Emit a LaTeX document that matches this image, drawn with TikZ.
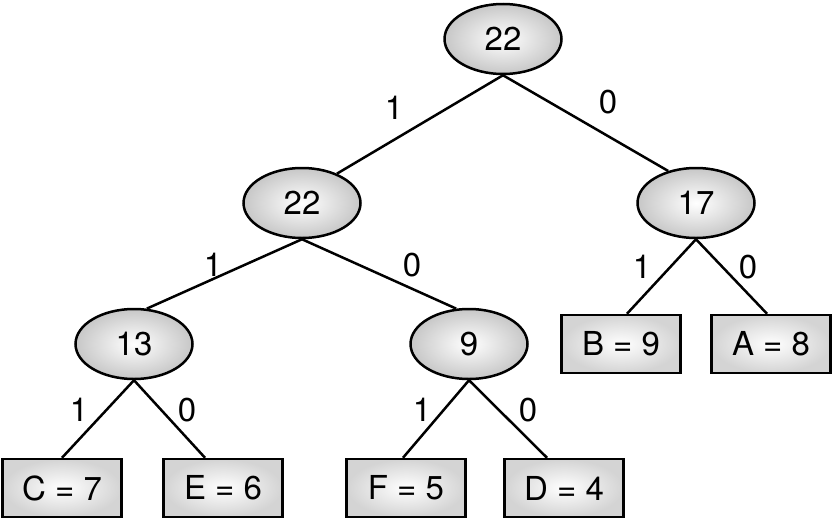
\documentclass[tikz,border=0pt]{standalone}
\usepackage{fontspec}
\setmainfont{TeX Gyre Heros}
\usetikzlibrary{shapes.geometric}
\begin{document}
\begin{tikzpicture}[x=1pt,y=-1pt,
  inode/.style={ellipse,draw,line width=2.5pt,minimum width=117pt,minimum height=70pt,inner sep=0pt,
    inner color=white,outer color=black!22,font=\fontsize{33}{36}\selectfont},
  leaf/.style={rectangle,draw,line width=2.5pt,minimum width=119pt,minimum height=58pt,inner sep=0pt,
    inner color=white,outer color=black!17,font=\fontsize{33}{36}\selectfont},
  edge/.style={line width=2.5pt},
  lbl/.style={font=\fontsize{33}{36}\selectfont,inner sep=0pt}]
\useasboundingbox (0,0) rectangle (834,522);
\node[inode] (r) at (503,39) {22};
\node[inode] (l) at (302,203) {22};
\node[inode] (n17) at (696,203) {17};
\node[inode] (n13) at (134,344) {13};
\node[inode] (n9) at (469,344) {9};
\node[leaf] (B) at (621,344) {B = 9};
\node[leaf] (A) at (771,344) {A = 8};
\node[leaf] (C) at (62,488) {C = 7};
\node[leaf] (E) at (223,488) {E = 6};
\node[leaf] (F) at (406,488) {F = 5};
\node[leaf] (D) at (564,488) {D = 4};
\draw[edge] (r.south) -- (l.40);
\draw[edge] (r.south) -- (n17.131);
\draw[edge] (l.south) -- (n13.70);
\draw[edge] (l.south) -- (n9.110);
\draw[edge] (n17.south) -- ([xshift=6pt]B.north);
\draw[edge] (n17.south) -- ([xshift=-4pt]A.north);
\draw[edge] (n13.south) -- (C.north);
\draw[edge] (n13.south) -- ([xshift=-18pt]E.north);
\draw[edge] (n9.south) -- ([xshift=-3pt]F.north);
\draw[edge] (n9.south) -- ([xshift=-17pt]D.north);
\node[lbl] (t1) at (394,108) {1};
\node[lbl] (t2) at (608,102) {0};
\node[lbl] (t3) at (213,265) {1};
\node[lbl] (t4) at (412,265) {0};
\node[lbl] (t5) at (642,267) {1};
\node[lbl] (t6) at (748,267) {0};
\node[lbl] (t7) at (79,410) {1};
\node[lbl] (t8) at (187,410) {0};
\node[lbl] (t9) at (422,410) {1};
\node[lbl] (t10) at (528,410) {0};
\end{tikzpicture}
\end{document}
